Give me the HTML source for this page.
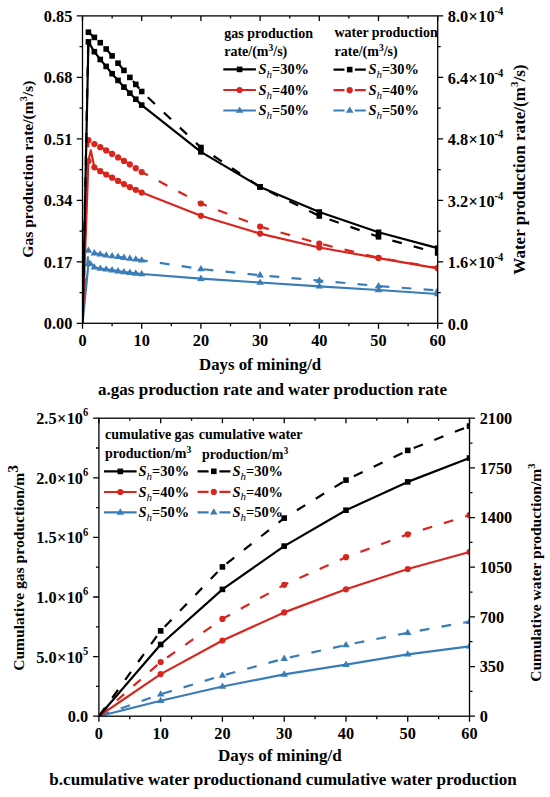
<!DOCTYPE html>
<html><head><meta charset="utf-8"><style>html,body{margin:0;padding:0;background:#fff;}svg{display:block;}text{font-family:"Liberation Serif",serif;font-weight:bold; fill:#000;}</style></head><body>
<svg width="550" height="797" viewBox="0 0 550 797">
<rect width="550" height="797" fill="#fff"/>
<defs><clipPath id="ca"><rect x="82.5" y="15.9" width="355.2" height="307.4"/></clipPath><clipPath id="cb"><rect x="98.9" y="418.2" width="370.6" height="298"/></clipPath></defs>
<g clip-path="url(#ca)">
<polyline points="82.5,323.3 88.42,250.5 94.34,253.2 100.26,254.3 106.18,255.3 112.1,256 118.02,256.8 123.94,257.6 129.86,258.4 135.78,259.3 141.7,260.3 200.9,269 260.1,275.2 319.3,280.6 378.5,286 437.7,290.5" fill="none" stroke="#3a7db6" stroke-width="2.2" stroke-dasharray="9.8 12.3" stroke-dashoffset="8.95" stroke-linejoin="round"/>
<polygon points="88.42,246.4 92.22,252.8 84.62,252.8" fill="#3a7db6"/>
<polygon points="94.34,249.1 98.14,255.5 90.54,255.5" fill="#3a7db6"/>
<polygon points="100.26,250.2 104.06,256.6 96.46,256.6" fill="#3a7db6"/>
<polygon points="106.18,251.2 109.98,257.6 102.38,257.6" fill="#3a7db6"/>
<polygon points="112.1,251.9 115.9,258.3 108.3,258.3" fill="#3a7db6"/>
<polygon points="118.02,252.7 121.82,259.1 114.22,259.1" fill="#3a7db6"/>
<polygon points="123.94,253.5 127.74,259.9 120.14,259.9" fill="#3a7db6"/>
<polygon points="129.86,254.3 133.66,260.7 126.06,260.7" fill="#3a7db6"/>
<polygon points="135.78,255.2 139.58,261.6 131.98,261.6" fill="#3a7db6"/>
<polygon points="141.7,256.2 145.5,262.6 137.9,262.6" fill="#3a7db6"/>
<polygon points="200.9,264.9 204.7,271.3 197.1,271.3" fill="#3a7db6"/>
<polygon points="260.1,271.1 263.9,277.5 256.3,277.5" fill="#3a7db6"/>
<polygon points="319.3,276.5 323.1,282.9 315.5,282.9" fill="#3a7db6"/>
<polygon points="378.5,281.9 382.3,288.3 374.7,288.3" fill="#3a7db6"/>
<polygon points="437.7,286.4 441.5,292.8 433.9,292.8" fill="#3a7db6"/>
<polyline points="82.5,323.3 88.42,263.9 89.6,261.3 94.34,267.3 100.26,268.5 106.18,269.3 112.1,270.1 118.02,271.1 123.94,272 129.86,272.6 135.78,273.4 141.7,274 200.9,278.7 260.1,282.5 319.3,286.3 378.5,290 437.7,294" fill="none" stroke="#3a7db6" stroke-width="2.2" stroke-linejoin="round"/>
<polygon points="88.42,259.8 92.22,266.2 84.62,266.2" fill="#3a7db6"/>
<polygon points="94.34,263.2 98.14,269.6 90.54,269.6" fill="#3a7db6"/>
<polygon points="100.26,264.4 104.06,270.8 96.46,270.8" fill="#3a7db6"/>
<polygon points="106.18,265.2 109.98,271.6 102.38,271.6" fill="#3a7db6"/>
<polygon points="112.1,266 115.9,272.4 108.3,272.4" fill="#3a7db6"/>
<polygon points="118.02,267 121.82,273.4 114.22,273.4" fill="#3a7db6"/>
<polygon points="123.94,267.9 127.74,274.3 120.14,274.3" fill="#3a7db6"/>
<polygon points="129.86,268.5 133.66,274.9 126.06,274.9" fill="#3a7db6"/>
<polygon points="135.78,269.3 139.58,275.7 131.98,275.7" fill="#3a7db6"/>
<polygon points="141.7,269.9 145.5,276.3 137.9,276.3" fill="#3a7db6"/>
<polygon points="200.9,274.6 204.7,281 197.1,281" fill="#3a7db6"/>
<polygon points="260.1,278.4 263.9,284.8 256.3,284.8" fill="#3a7db6"/>
<polygon points="319.3,282.2 323.1,288.6 315.5,288.6" fill="#3a7db6"/>
<polygon points="378.5,285.9 382.3,292.3 374.7,292.3" fill="#3a7db6"/>
<polygon points="437.7,289.9 441.5,296.3 433.9,296.3" fill="#3a7db6"/>
<polyline points="82.5,323.3 88.42,140.2 94.34,144 100.26,147.2 106.18,150.4 112.1,153.9 118.02,157.4 123.94,160.9 129.86,164.4 135.78,168.2 141.7,172 200.9,203.5 260.1,226.6 319.3,243.5 378.5,257.8 437.7,267.8" fill="none" stroke="#d8261e" stroke-width="2.2" stroke-dasharray="9.8 12.3" stroke-dashoffset="0.63" stroke-linejoin="round"/>
<circle cx="88.42" cy="140.2" r="3.1" fill="#d8261e"/>
<circle cx="94.34" cy="144" r="3.1" fill="#d8261e"/>
<circle cx="100.26" cy="147.2" r="3.1" fill="#d8261e"/>
<circle cx="106.18" cy="150.4" r="3.1" fill="#d8261e"/>
<circle cx="112.1" cy="153.9" r="3.1" fill="#d8261e"/>
<circle cx="118.02" cy="157.4" r="3.1" fill="#d8261e"/>
<circle cx="123.94" cy="160.9" r="3.1" fill="#d8261e"/>
<circle cx="129.86" cy="164.4" r="3.1" fill="#d8261e"/>
<circle cx="135.78" cy="168.2" r="3.1" fill="#d8261e"/>
<circle cx="141.7" cy="172" r="3.1" fill="#d8261e"/>
<circle cx="200.9" cy="203.5" r="3.1" fill="#d8261e"/>
<circle cx="260.1" cy="226.6" r="3.1" fill="#d8261e"/>
<circle cx="319.3" cy="243.5" r="3.1" fill="#d8261e"/>
<circle cx="378.5" cy="257.8" r="3.1" fill="#d8261e"/>
<circle cx="437.7" cy="267.8" r="3.1" fill="#d8261e"/>
<polyline points="82.5,323.3 88.42,161 90.79,150.3 94.34,167.3 100.26,171.2 106.18,174.5 112.1,177.7 118.02,180.9 123.94,184.1 129.86,187.2 135.78,189.8 141.7,192.6 200.9,215.8 260.1,233.6 319.3,247.5 378.5,258.1 437.7,268.3" fill="none" stroke="#d8261e" stroke-width="2.2" stroke-linejoin="round"/>
<circle cx="88.42" cy="161" r="3.1" fill="#d8261e"/>
<circle cx="94.34" cy="167.3" r="3.1" fill="#d8261e"/>
<circle cx="100.26" cy="171.2" r="3.1" fill="#d8261e"/>
<circle cx="106.18" cy="174.5" r="3.1" fill="#d8261e"/>
<circle cx="112.1" cy="177.7" r="3.1" fill="#d8261e"/>
<circle cx="118.02" cy="180.9" r="3.1" fill="#d8261e"/>
<circle cx="123.94" cy="184.1" r="3.1" fill="#d8261e"/>
<circle cx="129.86" cy="187.2" r="3.1" fill="#d8261e"/>
<circle cx="135.78" cy="189.8" r="3.1" fill="#d8261e"/>
<circle cx="141.7" cy="192.6" r="3.1" fill="#d8261e"/>
<circle cx="200.9" cy="215.8" r="3.1" fill="#d8261e"/>
<circle cx="260.1" cy="233.6" r="3.1" fill="#d8261e"/>
<circle cx="319.3" cy="247.5" r="3.1" fill="#d8261e"/>
<circle cx="378.5" cy="258.1" r="3.1" fill="#d8261e"/>
<circle cx="437.7" cy="268.3" r="3.1" fill="#d8261e"/>
<polyline points="82.5,323.3 88.42,32.2 94.34,37.4 100.26,42.7 106.18,49 112.1,55.9 118.02,63.2 123.94,70.4 129.86,77.4 135.78,84.4 141.7,91.5 200.9,147.5 260.1,187 319.3,216 378.5,236.8 437.7,253" fill="none" stroke="#000" stroke-width="2.2" stroke-dasharray="9.8 12.3" stroke-dashoffset="18.38" stroke-linejoin="round"/>
<rect x="85.62" y="29.4" width="5.6" height="5.6" fill="#000"/>
<rect x="91.54" y="34.6" width="5.6" height="5.6" fill="#000"/>
<rect x="97.46" y="39.9" width="5.6" height="5.6" fill="#000"/>
<rect x="103.38" y="46.2" width="5.6" height="5.6" fill="#000"/>
<rect x="109.3" y="53.1" width="5.6" height="5.6" fill="#000"/>
<rect x="115.22" y="60.4" width="5.6" height="5.6" fill="#000"/>
<rect x="121.14" y="67.6" width="5.6" height="5.6" fill="#000"/>
<rect x="127.06" y="74.6" width="5.6" height="5.6" fill="#000"/>
<rect x="132.98" y="81.6" width="5.6" height="5.6" fill="#000"/>
<rect x="138.9" y="88.7" width="5.6" height="5.6" fill="#000"/>
<rect x="198.1" y="144.7" width="5.6" height="5.6" fill="#000"/>
<rect x="257.3" y="184.2" width="5.6" height="5.6" fill="#000"/>
<rect x="316.5" y="213.2" width="5.6" height="5.6" fill="#000"/>
<rect x="375.7" y="234" width="5.6" height="5.6" fill="#000"/>
<rect x="434.9" y="250.2" width="5.6" height="5.6" fill="#000"/>
<polyline points="82.5,323.3 88.42,41.9 94.34,51.7 100.26,59.5 106.18,66.4 112.1,73.7 118.02,80.4 123.94,87.1 129.86,93.1 135.78,99.2 141.7,105.1 200.9,151.9 260.1,187 319.3,212 378.5,232.3 437.7,248.1" fill="none" stroke="#000" stroke-width="2.2" stroke-linejoin="round"/>
<rect x="85.62" y="39.1" width="5.6" height="5.6" fill="#000"/>
<rect x="91.54" y="48.9" width="5.6" height="5.6" fill="#000"/>
<rect x="97.46" y="56.7" width="5.6" height="5.6" fill="#000"/>
<rect x="103.38" y="63.6" width="5.6" height="5.6" fill="#000"/>
<rect x="109.3" y="70.9" width="5.6" height="5.6" fill="#000"/>
<rect x="115.22" y="77.6" width="5.6" height="5.6" fill="#000"/>
<rect x="121.14" y="84.3" width="5.6" height="5.6" fill="#000"/>
<rect x="127.06" y="90.3" width="5.6" height="5.6" fill="#000"/>
<rect x="132.98" y="96.4" width="5.6" height="5.6" fill="#000"/>
<rect x="138.9" y="102.3" width="5.6" height="5.6" fill="#000"/>
<rect x="198.1" y="149.1" width="5.6" height="5.6" fill="#000"/>
<rect x="257.3" y="184.2" width="5.6" height="5.6" fill="#000"/>
<rect x="316.5" y="209.2" width="5.6" height="5.6" fill="#000"/>
<rect x="375.7" y="229.5" width="5.6" height="5.6" fill="#000"/>
<rect x="434.9" y="245.3" width="5.6" height="5.6" fill="#000"/>
</g>
<rect x="82.5" y="15.9" width="355.2" height="307.4" fill="none" stroke="#000" stroke-width="1.3"/>
<path d="M82.5 323.3v5.5M82.5 15.9v5M112.1 323.3v3M112.1 15.9v2.6M141.7 323.3v5.5M141.7 15.9v5M171.3 323.3v3M171.3 15.9v2.6M200.9 323.3v5.5M200.9 15.9v5M230.5 323.3v3M230.5 15.9v2.6M260.1 323.3v5.5M260.1 15.9v5M289.7 323.3v3M289.7 15.9v2.6M319.3 323.3v5.5M319.3 15.9v5M348.9 323.3v3M348.9 15.9v2.6M378.5 323.3v5.5M378.5 15.9v5M408.1 323.3v3M408.1 15.9v2.6M437.7 323.3v5.5M437.7 15.9v5M82.5 15.9h-5.8M82.5 46.64h-3M82.5 77.38h-5.8M82.5 108.12h-3M82.5 138.86h-5.8M82.5 169.6h-3M82.5 200.34h-5.8M82.5 231.08h-3M82.5 261.82h-5.8M82.5 292.56h-3M82.5 323.3h-5.8M437.7 15.9h5.5M437.7 46.64h3M437.7 77.38h5.5M437.7 108.12h3M437.7 138.86h5.5M437.7 169.6h3M437.7 200.34h5.5M437.7 231.08h3M437.7 261.82h5.5M437.7 292.56h3M437.7 323.3h5.5" stroke="#000" stroke-width="1.3" fill="none"/>
<text transform="translate(72.3,21.8) scale(1,1.09)" font-size="16.3" text-anchor="end">0.85</text>
<text transform="translate(72.3,83.28) scale(1,1.09)" font-size="16.3" text-anchor="end">0.68</text>
<text transform="translate(72.3,144.76) scale(1,1.09)" font-size="16.3" text-anchor="end">0.51</text>
<text transform="translate(72.3,206.24) scale(1,1.09)" font-size="16.3" text-anchor="end">0.34</text>
<text transform="translate(72.3,267.72) scale(1,1.09)" font-size="16.3" text-anchor="end">0.17</text>
<text transform="translate(72.3,329.2) scale(1,1.09)" font-size="16.3" text-anchor="end">0.00</text>
<text transform="translate(447.8,22.3) scale(1,1.09)" font-size="16.3" text-anchor="start">8.0<tspan dx="0.4">×</tspan><tspan dx="0.4">10</tspan><tspan dy="-6.5" font-size="10.5">-4</tspan></text>
<text transform="translate(447.8,83.78) scale(1,1.09)" font-size="16.3" text-anchor="start">6.4<tspan dx="0.4">×</tspan><tspan dx="0.4">10</tspan><tspan dy="-6.5" font-size="10.5">-4</tspan></text>
<text transform="translate(447.8,145.26) scale(1,1.09)" font-size="16.3" text-anchor="start">4.8<tspan dx="0.4">×</tspan><tspan dx="0.4">10</tspan><tspan dy="-6.5" font-size="10.5">-4</tspan></text>
<text transform="translate(447.8,206.74) scale(1,1.09)" font-size="16.3" text-anchor="start">3.2<tspan dx="0.4">×</tspan><tspan dx="0.4">10</tspan><tspan dy="-6.5" font-size="10.5">-4</tspan></text>
<text transform="translate(447.8,268.22) scale(1,1.09)" font-size="16.3" text-anchor="start">1.6<tspan dx="0.4">×</tspan><tspan dx="0.4">10</tspan><tspan dy="-6.5" font-size="10.5">-4</tspan></text>
<text transform="translate(447.8,329.7) scale(1,1.09)" font-size="16.3" text-anchor="start">0.0</text>
<text transform="translate(82.5,346.3) scale(1,1.09)" font-size="16.3" text-anchor="middle">0</text>
<text transform="translate(141.7,346.3) scale(1,1.09)" font-size="16.3" text-anchor="middle">10</text>
<text transform="translate(200.9,346.3) scale(1,1.09)" font-size="16.3" text-anchor="middle">20</text>
<text transform="translate(260.1,346.3) scale(1,1.09)" font-size="16.3" text-anchor="middle">30</text>
<text transform="translate(319.3,346.3) scale(1,1.09)" font-size="16.3" text-anchor="middle">40</text>
<text transform="translate(378.5,346.3) scale(1,1.09)" font-size="16.3" text-anchor="middle">50</text>
<text transform="translate(437.7,346.3) scale(1,1.09)" font-size="16.3" text-anchor="middle">60</text>
<text x="260.1" y="369.8" font-size="16.8" text-anchor="middle">Days of mining/d</text>
<text x="98.1" y="394.8" font-size="17" text-anchor="start">a.gas production rate and water production rate</text>
<text transform="translate(32.8,169.2) rotate(-90)" font-size="15.6" text-anchor="middle">Gas production rate/(m<tspan dy="-6" font-size="10">3</tspan><tspan dy="6">/s)</tspan></text>
<text transform="translate(524.8,169.6) rotate(-90)" font-size="17.05" text-anchor="middle">Water production rate/(m<tspan dy="-6.5" font-size="11">3</tspan><tspan dy="6.5">/s)</tspan></text>
<text x="224.2" y="37.5" font-size="14" text-anchor="start">gas production</text>
<text x="224.2" y="56" font-size="14" text-anchor="start">rate/(m<tspan dy="-5.5" font-size="9.5">3</tspan><tspan dy="5.5">/s)</tspan></text>
<text x="334.4" y="37.3" font-size="14" text-anchor="start">water production</text>
<text x="334.6" y="56" font-size="14" text-anchor="start">rate/(m<tspan dy="-5.5" font-size="9.5">3</tspan><tspan dy="5.5">/s)</tspan></text>
<path d="M223.3 69.4H255.9" stroke="#000" stroke-width="2.2"/>
<rect x="236.8" y="66.6" width="5.6" height="5.6" fill="#000"/>
<text x="258.5" y="74.2" font-size="14.4"><tspan font-style="italic">S</tspan><tspan font-style="italic" font-weight="normal" font-size="11" dy="3.7">h</tspan><tspan dy="-3.7">=30%</tspan></text>
<path d="M223.3 90H255.9" stroke="#d8261e" stroke-width="2.2"/>
<circle cx="239.6" cy="90" r="3.1" fill="#d8261e"/>
<text x="258.5" y="94.8" font-size="14.4"><tspan font-style="italic">S</tspan><tspan font-style="italic" font-weight="normal" font-size="11" dy="3.7">h</tspan><tspan dy="-3.7">=40%</tspan></text>
<path d="M223.3 110.5H255.9" stroke="#3a7db6" stroke-width="2.2"/>
<polygon points="239.6,106.4 243.4,112.8 235.8,112.8" fill="#3a7db6"/>
<text x="258.5" y="115.3" font-size="14.4"><tspan font-style="italic">S</tspan><tspan font-style="italic" font-weight="normal" font-size="11" dy="3.7">h</tspan><tspan dy="-3.7">=50%</tspan></text>
<path d="M333.5 69.6H344.5 M354.8 69.6H365.8" stroke="#000" stroke-width="2.2"/>
<rect x="346.9" y="66.8" width="5.6" height="5.6" fill="#000"/>
<text x="368.4" y="74.4" font-size="14.4"><tspan font-style="italic">S</tspan><tspan font-style="italic" font-weight="normal" font-size="11" dy="3.7">h</tspan><tspan dy="-3.7">=30%</tspan></text>
<path d="M333.5 90.2H344.5 M354.8 90.2H365.8" stroke="#d8261e" stroke-width="2.2"/>
<circle cx="349.7" cy="90.2" r="3.1" fill="#d8261e"/>
<text x="368.4" y="95" font-size="14.4"><tspan font-style="italic">S</tspan><tspan font-style="italic" font-weight="normal" font-size="11" dy="3.7">h</tspan><tspan dy="-3.7">=40%</tspan></text>
<path d="M333.5 110.5H344.5 M354.8 110.5H365.8" stroke="#3a7db6" stroke-width="2.2"/>
<polygon points="349.7,106.4 353.5,112.8 345.9,112.8" fill="#3a7db6"/>
<text x="368.4" y="115.3" font-size="14.4"><tspan font-style="italic">S</tspan><tspan font-style="italic" font-weight="normal" font-size="11" dy="3.7">h</tspan><tspan dy="-3.7">=50%</tspan></text>
<g clip-path="url(#cb)">
<polyline points="98.9,716.2 160.67,694.3 222.43,675.5 284.2,658.6 345.97,645 407.73,632.8 469.5,621.6" fill="none" stroke="#3a7db6" stroke-width="2.2" stroke-dasharray="9.8 12.3" stroke-dashoffset="21.07" stroke-linejoin="round"/>
<polygon points="160.67,690.2 164.47,696.6 156.87,696.6" fill="#3a7db6"/>
<polygon points="222.43,671.4 226.23,677.8 218.63,677.8" fill="#3a7db6"/>
<polygon points="284.2,654.5 288,660.9 280.4,660.9" fill="#3a7db6"/>
<polygon points="345.97,640.9 349.77,647.3 342.17,647.3" fill="#3a7db6"/>
<polygon points="407.73,628.7 411.53,635.1 403.93,635.1" fill="#3a7db6"/>
<polygon points="469.5,617.5 473.3,623.9 465.7,623.9" fill="#3a7db6"/>
<polyline points="98.9,716.2 160.67,700.8 222.43,686.5 284.2,674.4 345.97,664.7 407.73,654.3 469.5,646.3" fill="none" stroke="#3a7db6" stroke-width="2.2" stroke-linejoin="round"/>
<polygon points="160.67,696.7 164.47,703.1 156.87,703.1" fill="#3a7db6"/>
<polygon points="222.43,682.4 226.23,688.8 218.63,688.8" fill="#3a7db6"/>
<polygon points="284.2,670.3 288,676.7 280.4,676.7" fill="#3a7db6"/>
<polygon points="345.97,660.6 349.77,667 342.17,667" fill="#3a7db6"/>
<polygon points="407.73,650.2 411.53,656.6 403.93,656.6" fill="#3a7db6"/>
<polygon points="469.5,642.2 473.3,648.6 465.7,648.6" fill="#3a7db6"/>
<polyline points="98.9,716.2 160.67,662 222.43,618.9 284.2,584.8 345.97,557.2 407.73,534.3 469.5,515.2" fill="none" stroke="#d8261e" stroke-width="2.2" stroke-dasharray="9.8 12.3" stroke-dashoffset="20.42" stroke-linejoin="round"/>
<circle cx="160.67" cy="662" r="3.1" fill="#d8261e"/>
<circle cx="222.43" cy="618.9" r="3.1" fill="#d8261e"/>
<circle cx="284.2" cy="584.8" r="3.1" fill="#d8261e"/>
<circle cx="345.97" cy="557.2" r="3.1" fill="#d8261e"/>
<circle cx="407.73" cy="534.3" r="3.1" fill="#d8261e"/>
<circle cx="469.5" cy="515.2" r="3.1" fill="#d8261e"/>
<polyline points="98.9,716.2 160.67,674.1 222.43,640.5 284.2,612.4 345.97,589.3 407.73,569 469.5,552" fill="none" stroke="#d8261e" stroke-width="2.2" stroke-linejoin="round"/>
<circle cx="160.67" cy="674.1" r="3.1" fill="#d8261e"/>
<circle cx="222.43" cy="640.5" r="3.1" fill="#d8261e"/>
<circle cx="284.2" cy="612.4" r="3.1" fill="#d8261e"/>
<circle cx="345.97" cy="589.3" r="3.1" fill="#d8261e"/>
<circle cx="407.73" cy="569" r="3.1" fill="#d8261e"/>
<circle cx="469.5" cy="552" r="3.1" fill="#d8261e"/>
<polyline points="98.9,716.2 160.67,630.9 222.43,566.9 284.2,518.1 345.97,480.1 407.73,450.4 469.5,426.1" fill="none" stroke="#000" stroke-width="2.2" stroke-dasharray="9.8 12.3" stroke-dashoffset="21.49" stroke-linejoin="round"/>
<rect x="157.87" y="628.1" width="5.6" height="5.6" fill="#000"/>
<rect x="219.63" y="564.1" width="5.6" height="5.6" fill="#000"/>
<rect x="281.4" y="515.3" width="5.6" height="5.6" fill="#000"/>
<rect x="343.17" y="477.3" width="5.6" height="5.6" fill="#000"/>
<rect x="404.93" y="447.6" width="5.6" height="5.6" fill="#000"/>
<rect x="466.7" y="423.3" width="5.6" height="5.6" fill="#000"/>
<polyline points="98.9,716.2 160.67,644.5 222.43,589.4 284.2,546.1 345.97,510.2 407.73,481.9 469.5,458" fill="none" stroke="#000" stroke-width="2.2" stroke-linejoin="round"/>
<rect x="157.87" y="641.7" width="5.6" height="5.6" fill="#000"/>
<rect x="219.63" y="586.6" width="5.6" height="5.6" fill="#000"/>
<rect x="281.4" y="543.3" width="5.6" height="5.6" fill="#000"/>
<rect x="343.17" y="507.4" width="5.6" height="5.6" fill="#000"/>
<rect x="404.93" y="479.1" width="5.6" height="5.6" fill="#000"/>
<rect x="466.7" y="455.2" width="5.6" height="5.6" fill="#000"/>
</g>
<rect x="98.9" y="418.2" width="370.6" height="298" fill="none" stroke="#000" stroke-width="1.3"/>
<path d="M98.9 716.2v5.5M98.9 418.2v5M129.78 716.2v3M129.78 418.2v2.6M160.67 716.2v5.5M160.67 418.2v5M191.55 716.2v3M191.55 418.2v2.6M222.43 716.2v5.5M222.43 418.2v5M253.32 716.2v3M253.32 418.2v2.6M284.2 716.2v5.5M284.2 418.2v5M315.08 716.2v3M315.08 418.2v2.6M345.97 716.2v5.5M345.97 418.2v5M376.85 716.2v3M376.85 418.2v2.6M407.73 716.2v5.5M407.73 418.2v5M438.62 716.2v3M438.62 418.2v2.6M469.5 716.2v5.5M469.5 418.2v5M98.9 418.2h-5.8M98.9 448h-3M98.9 477.8h-5.8M98.9 507.6h-3M98.9 537.4h-5.8M98.9 567.2h-3M98.9 597h-5.8M98.9 626.8h-3M98.9 656.6h-5.8M98.9 686.4h-3M98.9 716.2h-5.8M469.5 418.2h5.5M469.5 443.03h3M469.5 467.87h5.5M469.5 492.7h3M469.5 517.53h5.5M469.5 542.37h3M469.5 567.2h5.5M469.5 592.03h3M469.5 616.87h5.5M469.5 641.7h3M469.5 666.53h5.5M469.5 691.37h3M469.5 716.2h5.5" stroke="#000" stroke-width="1.3" fill="none"/>
<text transform="translate(88.2,424.1) scale(1,1.09)" font-size="16.3" text-anchor="end">2.5<tspan dx="0.4">×</tspan><tspan dx="0.4">10</tspan><tspan dy="-7" font-size="10.5">6</tspan></text>
<text transform="translate(88.2,483.7) scale(1,1.09)" font-size="16.3" text-anchor="end">2.0<tspan dx="0.4">×</tspan><tspan dx="0.4">10</tspan><tspan dy="-7" font-size="10.5">6</tspan></text>
<text transform="translate(88.2,543.3) scale(1,1.09)" font-size="16.3" text-anchor="end">1.5<tspan dx="0.4">×</tspan><tspan dx="0.4">10</tspan><tspan dy="-7" font-size="10.5">6</tspan></text>
<text transform="translate(88.2,602.9) scale(1,1.09)" font-size="16.3" text-anchor="end">1.0<tspan dx="0.4">×</tspan><tspan dx="0.4">10</tspan><tspan dy="-7" font-size="10.5">6</tspan></text>
<text transform="translate(88.2,662.5) scale(1,1.09)" font-size="16.3" text-anchor="end">5.0<tspan dx="0.4">×</tspan><tspan dx="0.4">10</tspan><tspan dy="-7" font-size="10.5">5</tspan></text>
<text transform="translate(88.2,722.1) scale(1,1.09)" font-size="16.3" text-anchor="end">0.0</text>
<text transform="translate(479.7,424.1) scale(1,1.09)" font-size="16.3" text-anchor="start">2100</text>
<text transform="translate(479.7,473.77) scale(1,1.09)" font-size="16.3" text-anchor="start">1750</text>
<text transform="translate(479.7,523.43) scale(1,1.09)" font-size="16.3" text-anchor="start">1400</text>
<text transform="translate(479.7,573.1) scale(1,1.09)" font-size="16.3" text-anchor="start">1050</text>
<text transform="translate(479.7,622.77) scale(1,1.09)" font-size="16.3" text-anchor="start">700</text>
<text transform="translate(479.7,672.43) scale(1,1.09)" font-size="16.3" text-anchor="start">350</text>
<text transform="translate(479.7,722.1) scale(1,1.09)" font-size="16.3" text-anchor="start">0</text>
<text transform="translate(98.9,739.2) scale(1,1.09)" font-size="16.3" text-anchor="middle">0</text>
<text transform="translate(160.67,739.2) scale(1,1.09)" font-size="16.3" text-anchor="middle">10</text>
<text transform="translate(222.43,739.2) scale(1,1.09)" font-size="16.3" text-anchor="middle">20</text>
<text transform="translate(284.2,739.2) scale(1,1.09)" font-size="16.3" text-anchor="middle">30</text>
<text transform="translate(345.97,739.2) scale(1,1.09)" font-size="16.3" text-anchor="middle">40</text>
<text transform="translate(407.73,739.2) scale(1,1.09)" font-size="16.3" text-anchor="middle">50</text>
<text transform="translate(469.5,739.2) scale(1,1.09)" font-size="16.3" text-anchor="middle">60</text>
<text x="218" y="761.1" font-size="17" text-anchor="start">Days of mining/d</text>
<text x="49.3" y="784.6" font-size="17.08" text-anchor="start">b.cumulative water productionand cumulative water production</text>
<text transform="translate(23.9,567.9) rotate(-90)" font-size="15.6" text-anchor="middle">Cumulative gas production/m<tspan dy="-5.8" font-size="15.6">3</tspan></text>
<text transform="translate(541.2,572.7) rotate(-90)" font-size="15.5" text-anchor="middle">Cumulative water production/m<tspan dy="-6" font-size="10.5">3</tspan></text>
<text x="105" y="439" font-size="14" text-anchor="start">cumulative gas</text>
<text x="105" y="458.2" font-size="14" text-anchor="start">production/m<tspan dy="-5.5" font-size="9.5">3</tspan></text>
<text x="198.7" y="438.8" font-size="14" text-anchor="start">cumulative water</text>
<text x="202" y="459.2" font-size="14" text-anchor="start">production/m<tspan dy="-5.5" font-size="9.5">3</tspan></text>
<path d="M104 471.4H136.6" stroke="#000" stroke-width="2.2"/>
<rect x="117.5" y="468.6" width="5.6" height="5.6" fill="#000"/>
<text x="138.6" y="476.2" font-size="14.4"><tspan font-style="italic">S</tspan><tspan font-style="italic" font-weight="normal" font-size="11" dy="3.7">h</tspan><tspan dy="-3.7">=30%</tspan></text>
<path d="M104 492H136.6" stroke="#d8261e" stroke-width="2.2"/>
<circle cx="120.3" cy="492" r="3.1" fill="#d8261e"/>
<text x="138.6" y="496.8" font-size="14.4"><tspan font-style="italic">S</tspan><tspan font-style="italic" font-weight="normal" font-size="11" dy="3.7">h</tspan><tspan dy="-3.7">=40%</tspan></text>
<path d="M104 512.4H136.6" stroke="#3a7db6" stroke-width="2.2"/>
<polygon points="120.3,508.3 124.1,514.7 116.5,514.7" fill="#3a7db6"/>
<text x="138.6" y="517.2" font-size="14.4"><tspan font-style="italic">S</tspan><tspan font-style="italic" font-weight="normal" font-size="11" dy="3.7">h</tspan><tspan dy="-3.7">=50%</tspan></text>
<path d="M197.6 471.3H208.6 M219.4 471.3H230.4" stroke="#000" stroke-width="2.2"/>
<rect x="211" y="468.5" width="5.6" height="5.6" fill="#000"/>
<text x="232.5" y="476.1" font-size="14.4"><tspan font-style="italic">S</tspan><tspan font-style="italic" font-weight="normal" font-size="11" dy="3.7">h</tspan><tspan dy="-3.7">=30%</tspan></text>
<path d="M197.6 491.9H208.6 M219.4 491.9H230.4" stroke="#d8261e" stroke-width="2.2"/>
<circle cx="213.8" cy="491.9" r="3.1" fill="#d8261e"/>
<text x="232.5" y="496.7" font-size="14.4"><tspan font-style="italic">S</tspan><tspan font-style="italic" font-weight="normal" font-size="11" dy="3.7">h</tspan><tspan dy="-3.7">=40%</tspan></text>
<path d="M197.6 512.3H208.6 M219.4 512.3H230.4" stroke="#3a7db6" stroke-width="2.2"/>
<polygon points="213.8,508.2 217.6,514.6 210,514.6" fill="#3a7db6"/>
<text x="232.5" y="517.1" font-size="14.4"><tspan font-style="italic">S</tspan><tspan font-style="italic" font-weight="normal" font-size="11" dy="3.7">h</tspan><tspan dy="-3.7">=50%</tspan></text>
</svg></body></html>
